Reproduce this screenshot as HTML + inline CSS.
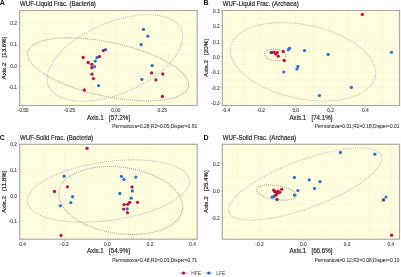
<!DOCTYPE html>
<html><head><meta charset="utf-8"><style>
html,body{margin:0;padding:0;background:#fff;width:401px;height:277px;overflow:hidden}
svg{display:block;will-change:transform}
</style></head><body><svg width="401" height="277" viewBox="0 0 401 277" font-family="'Liberation Sans', sans-serif"><clipPath id="clipA"><rect x="19.7" y="10.5" width="177.50" height="95.00"/></clipPath><rect x="19.7" y="10.5" width="177.50" height="95.00" fill="#ffffe0"/><g clip-path="url(#clipA)"><line x1="46.20" y1="10.5" x2="46.20" y2="105.5" stroke="#e6e6cc" stroke-width="0.5" opacity="0.6"/><line x1="92.60" y1="10.5" x2="92.60" y2="105.5" stroke="#e6e6cc" stroke-width="0.5" opacity="0.6"/><line x1="139.00" y1="10.5" x2="139.00" y2="105.5" stroke="#e6e6cc" stroke-width="0.5" opacity="0.6"/><line x1="185.40" y1="10.5" x2="185.40" y2="105.5" stroke="#e6e6cc" stroke-width="0.5" opacity="0.6"/><line x1="19.7" y1="12.17" x2="197.2" y2="12.17" stroke="#e6e6cc" stroke-width="0.5" opacity="0.6"/><line x1="19.7" y1="33.54" x2="197.2" y2="33.54" stroke="#e6e6cc" stroke-width="0.5" opacity="0.6"/><line x1="19.7" y1="54.91" x2="197.2" y2="54.91" stroke="#e6e6cc" stroke-width="0.5" opacity="0.6"/><line x1="19.7" y1="76.28" x2="197.2" y2="76.28" stroke="#e6e6cc" stroke-width="0.5" opacity="0.6"/><line x1="19.7" y1="97.66" x2="197.2" y2="97.66" stroke="#e6e6cc" stroke-width="0.5" opacity="0.6"/><line x1="23.00" y1="10.5" x2="23.00" y2="105.5" stroke="#e6e6cc" stroke-width="0.5" opacity="0.6"/><line x1="69.40" y1="10.5" x2="69.40" y2="105.5" stroke="#e6e6cc" stroke-width="0.5" opacity="0.6"/><line x1="115.80" y1="10.5" x2="115.80" y2="105.5" stroke="#e6e6cc" stroke-width="0.5" opacity="0.6"/><line x1="162.20" y1="10.5" x2="162.20" y2="105.5" stroke="#e6e6cc" stroke-width="0.5" opacity="0.6"/><line x1="19.7" y1="22.86" x2="197.2" y2="22.86" stroke="#e6e6cc" stroke-width="0.5" opacity="0.6"/><line x1="19.7" y1="44.23" x2="197.2" y2="44.23" stroke="#e6e6cc" stroke-width="0.5" opacity="0.6"/><line x1="19.7" y1="65.60" x2="197.2" y2="65.60" stroke="#e6e6cc" stroke-width="0.5" opacity="0.6"/><line x1="19.7" y1="86.97" x2="197.2" y2="86.97" stroke="#e6e6cc" stroke-width="0.5" opacity="0.6"/><ellipse cx="108.08" cy="69.35" rx="82.14" ry="26.95" transform="rotate(12.15 108.08 69.35)" fill="none" stroke="#b49496" stroke-width="1.1" stroke-dasharray="0.9 1.1" stroke-linecap="butt"/><ellipse cx="114.98" cy="57.95" rx="72.11" ry="35.6" transform="rotate(-23.08 114.98 57.95)" fill="none" stroke="#adb8bb" stroke-width="1.1" stroke-dasharray="0.9 1.1" stroke-linecap="butt"/><circle cx="95.2" cy="61.1" r="1.65" fill="#2f78c9"/><circle cx="97.0" cy="57.6" r="1.65" fill="#2f78c9"/><circle cx="105.5" cy="49.7" r="1.65" fill="#2f78c9"/><circle cx="94.6" cy="66.6" r="1.65" fill="#2f78c9"/><circle cx="98.5" cy="85.7" r="1.65" fill="#2f78c9"/><circle cx="143.5" cy="29.4" r="1.65" fill="#2f78c9"/><circle cx="147.9" cy="36.2" r="1.65" fill="#2f78c9"/><circle cx="141.2" cy="44.7" r="1.65" fill="#2f78c9"/><circle cx="152.2" cy="65.6" r="1.65" fill="#2f78c9"/><circle cx="141.9" cy="79.3" r="1.65" fill="#2f78c9"/><circle cx="83.2" cy="57.5" r="1.65" fill="#bd1444"/><circle cx="88.2" cy="62.5" r="1.65" fill="#bd1444"/><circle cx="91.8" cy="64.3" r="1.65" fill="#bd1444"/><circle cx="99.4" cy="56.6" r="1.65" fill="#bd1444"/><circle cx="103.3" cy="50.6" r="1.65" fill="#bd1444"/><circle cx="91.8" cy="67.6" r="1.65" fill="#bd1444"/><circle cx="92.0" cy="74.2" r="1.65" fill="#bd1444"/><circle cx="93.4" cy="78.6" r="1.65" fill="#bd1444"/><circle cx="84.3" cy="90.0" r="1.65" fill="#bd1444"/><circle cx="151.6" cy="72.9" r="1.65" fill="#bd1444"/><circle cx="162.8" cy="74.0" r="1.65" fill="#bd1444"/><circle cx="155.9" cy="79.9" r="1.65" fill="#bd1444"/><circle cx="162.4" cy="96.4" r="1.65" fill="#bd1444"/></g><rect x="19.7" y="10.5" width="177.50" height="95.00" fill="none" stroke="#aeaea8" stroke-width="1.25"/><line x1="23.00" y1="105.5" x2="23.00" y2="107.3" stroke="#aeaea8" stroke-width="0.6"/><text transform="translate(23.00 111.90) scale(0.92 1)" font-size="5.217" text-anchor="middle" fill="#474747" stroke="#474747" stroke-width="0.12" xml:space="preserve">-0.50</text><line x1="69.40" y1="105.5" x2="69.40" y2="107.3" stroke="#aeaea8" stroke-width="0.6"/><text transform="translate(69.40 111.90) scale(0.92 1)" font-size="5.217" text-anchor="middle" fill="#474747" stroke="#474747" stroke-width="0.12" xml:space="preserve">-0.25</text><line x1="115.80" y1="105.5" x2="115.80" y2="107.3" stroke="#aeaea8" stroke-width="0.6"/><text transform="translate(115.80 111.90) scale(0.92 1)" font-size="5.217" text-anchor="middle" fill="#474747" stroke="#474747" stroke-width="0.12" xml:space="preserve">0.00</text><line x1="162.20" y1="105.5" x2="162.20" y2="107.3" stroke="#aeaea8" stroke-width="0.6"/><text transform="translate(162.20 111.90) scale(0.92 1)" font-size="5.217" text-anchor="middle" fill="#474747" stroke="#474747" stroke-width="0.12" xml:space="preserve">0.25</text><line x1="17.9" y1="22.86" x2="19.7" y2="22.86" stroke="#aeaea8" stroke-width="0.6"/><text transform="translate(16.90 25.06) scale(0.92 1)" font-size="5.217" text-anchor="end" fill="#474747" stroke="#474747" stroke-width="0.12" xml:space="preserve">0.2</text><line x1="17.9" y1="44.23" x2="19.7" y2="44.23" stroke="#aeaea8" stroke-width="0.6"/><text transform="translate(16.90 46.43) scale(0.92 1)" font-size="5.217" text-anchor="end" fill="#474747" stroke="#474747" stroke-width="0.12" xml:space="preserve">0.1</text><line x1="17.9" y1="65.60" x2="19.7" y2="65.60" stroke="#aeaea8" stroke-width="0.6"/><text transform="translate(16.90 67.80) scale(0.92 1)" font-size="5.217" text-anchor="end" fill="#474747" stroke="#474747" stroke-width="0.12" xml:space="preserve">0.0</text><line x1="17.9" y1="86.97" x2="19.7" y2="86.97" stroke="#aeaea8" stroke-width="0.6"/><text transform="translate(16.90 89.17) scale(0.92 1)" font-size="5.217" text-anchor="end" fill="#474747" stroke="#474747" stroke-width="0.12" xml:space="preserve">-0.1</text><text transform="translate(-0.30 4.90) scale(1 1)" font-size="7.000" text-anchor="start" fill="#111" font-weight="bold" xml:space="preserve">A</text><text transform="translate(20.00 6.10) scale(0.92 1)" font-size="6.630" text-anchor="start" fill="#1e1e1e" stroke="#1e1e1e" stroke-width="0.16" xml:space="preserve">WUF-Liquid Frac. (Bacteria)</text><text transform="translate(108.45 119.70) scale(0.92 1)" font-size="6.739" text-anchor="middle" fill="#1e1e1e" stroke="#1e1e1e" stroke-width="0.16" xml:space="preserve">Axis.1   [57.2%]</text><text transform="translate(5.60 58.00) rotate(-90) scale(1.0526 1)" font-size="5.890" text-anchor="middle" fill="#1e1e1e" stroke="#1e1e1e" stroke-width="0.16" xml:space="preserve">Axis.2   [13.6%]</text><text transform="translate(197.10 127.80) scale(0.92 1)" font-size="5.293" text-anchor="end" fill="#2a2a2a" stroke="#2a2a2a" stroke-width="0.06" xml:space="preserve">Permanova=0.28;R2=0.05;Disper=0.91</text><clipPath id="clipB"><rect x="222.35" y="10.5" width="177.15" height="95.00"/></clipPath><rect x="222.35" y="10.5" width="177.15" height="95.00" fill="#ffffe0"/><g clip-path="url(#clipB)"><line x1="243.42" y1="10.5" x2="243.42" y2="105.5" stroke="#e6e6cc" stroke-width="0.5" opacity="0.6"/><line x1="278.27" y1="10.5" x2="278.27" y2="105.5" stroke="#e6e6cc" stroke-width="0.5" opacity="0.6"/><line x1="313.12" y1="10.5" x2="313.12" y2="105.5" stroke="#e6e6cc" stroke-width="0.5" opacity="0.6"/><line x1="347.97" y1="10.5" x2="347.97" y2="105.5" stroke="#e6e6cc" stroke-width="0.5" opacity="0.6"/><line x1="382.82" y1="10.5" x2="382.82" y2="105.5" stroke="#e6e6cc" stroke-width="0.5" opacity="0.6"/><line x1="222.35" y1="18.20" x2="399.5" y2="18.20" stroke="#e6e6cc" stroke-width="0.5" opacity="0.6"/><line x1="222.35" y1="33.62" x2="399.5" y2="33.62" stroke="#e6e6cc" stroke-width="0.5" opacity="0.6"/><line x1="222.35" y1="49.04" x2="399.5" y2="49.04" stroke="#e6e6cc" stroke-width="0.5" opacity="0.6"/><line x1="222.35" y1="64.46" x2="399.5" y2="64.46" stroke="#e6e6cc" stroke-width="0.5" opacity="0.6"/><line x1="222.35" y1="79.88" x2="399.5" y2="79.88" stroke="#e6e6cc" stroke-width="0.5" opacity="0.6"/><line x1="222.35" y1="95.30" x2="399.5" y2="95.30" stroke="#e6e6cc" stroke-width="0.5" opacity="0.6"/><line x1="226.00" y1="10.5" x2="226.00" y2="105.5" stroke="#e6e6cc" stroke-width="0.5" opacity="0.6"/><line x1="260.85" y1="10.5" x2="260.85" y2="105.5" stroke="#e6e6cc" stroke-width="0.5" opacity="0.6"/><line x1="295.70" y1="10.5" x2="295.70" y2="105.5" stroke="#e6e6cc" stroke-width="0.5" opacity="0.6"/><line x1="330.55" y1="10.5" x2="330.55" y2="105.5" stroke="#e6e6cc" stroke-width="0.5" opacity="0.6"/><line x1="365.40" y1="10.5" x2="365.40" y2="105.5" stroke="#e6e6cc" stroke-width="0.5" opacity="0.6"/><line x1="222.35" y1="10.49" x2="399.5" y2="10.49" stroke="#e6e6cc" stroke-width="0.5" opacity="0.6"/><line x1="222.35" y1="25.91" x2="399.5" y2="25.91" stroke="#e6e6cc" stroke-width="0.5" opacity="0.6"/><line x1="222.35" y1="41.33" x2="399.5" y2="41.33" stroke="#e6e6cc" stroke-width="0.5" opacity="0.6"/><line x1="222.35" y1="56.75" x2="399.5" y2="56.75" stroke="#e6e6cc" stroke-width="0.5" opacity="0.6"/><line x1="222.35" y1="72.17" x2="399.5" y2="72.17" stroke="#e6e6cc" stroke-width="0.5" opacity="0.6"/><line x1="222.35" y1="87.59" x2="399.5" y2="87.59" stroke="#e6e6cc" stroke-width="0.5" opacity="0.6"/><line x1="222.35" y1="103.01" x2="399.5" y2="103.01" stroke="#e6e6cc" stroke-width="0.5" opacity="0.6"/><ellipse cx="303.01" cy="61.81" rx="73.87" ry="36.94" transform="rotate(11.79 303.01 61.81)" fill="none" stroke="#adb8bb" stroke-width="1.1" stroke-dasharray="0.9 1.1" stroke-linecap="butt"/><ellipse cx="275.3" cy="54.9" rx="10.7" ry="5.6" transform="rotate(6 275.3 54.9)" fill="none" stroke="#b49496" stroke-width="1.1" stroke-dasharray="0.9 1.1" stroke-linecap="butt"/><circle cx="271.2" cy="52.4" r="1.65" fill="#2f78c9"/><circle cx="288.3" cy="49.8" r="1.65" fill="#2f78c9"/><circle cx="289.5" cy="48.3" r="1.65" fill="#2f78c9"/><circle cx="304.5" cy="50.6" r="1.65" fill="#2f78c9"/><circle cx="328.2" cy="54.4" r="1.65" fill="#2f78c9"/><circle cx="297.9" cy="66.5" r="1.65" fill="#2f78c9"/><circle cx="297.0" cy="69.1" r="1.65" fill="#2f78c9"/><circle cx="283.8" cy="72.1" r="1.65" fill="#2f78c9"/><circle cx="319.4" cy="95.6" r="1.65" fill="#2f78c9"/><circle cx="351.3" cy="87.4" r="1.65" fill="#2f78c9"/><circle cx="391.5" cy="52.3" r="1.65" fill="#2f78c9"/><circle cx="271.6" cy="52.6" r="1.65" fill="#bd1444"/><circle cx="274.1" cy="52.1" r="1.65" fill="#bd1444"/><circle cx="277.2" cy="52.6" r="1.65" fill="#bd1444"/><circle cx="275.7" cy="54.1" r="1.65" fill="#bd1444"/><circle cx="278.2" cy="56.2" r="1.65" fill="#bd1444"/><circle cx="283.3" cy="51.4" r="1.65" fill="#bd1444"/><circle cx="284.2" cy="60.5" r="1.65" fill="#bd1444"/><circle cx="362.3" cy="14.4" r="1.65" fill="#bd1444"/></g><rect x="222.35" y="10.5" width="177.15" height="95.00" fill="none" stroke="#aeaea8" stroke-width="1.25"/><line x1="226.00" y1="105.5" x2="226.00" y2="107.3" stroke="#aeaea8" stroke-width="0.6"/><text transform="translate(226.00 111.90) scale(0.92 1)" font-size="5.217" text-anchor="middle" fill="#474747" stroke="#474747" stroke-width="0.12" xml:space="preserve">-0.4</text><line x1="260.85" y1="105.5" x2="260.85" y2="107.3" stroke="#aeaea8" stroke-width="0.6"/><text transform="translate(260.85 111.90) scale(0.92 1)" font-size="5.217" text-anchor="middle" fill="#474747" stroke="#474747" stroke-width="0.12" xml:space="preserve">-0.2</text><line x1="295.70" y1="105.5" x2="295.70" y2="107.3" stroke="#aeaea8" stroke-width="0.6"/><text transform="translate(295.70 111.90) scale(0.92 1)" font-size="5.217" text-anchor="middle" fill="#474747" stroke="#474747" stroke-width="0.12" xml:space="preserve">0.0</text><line x1="330.55" y1="105.5" x2="330.55" y2="107.3" stroke="#aeaea8" stroke-width="0.6"/><text transform="translate(330.55 111.90) scale(0.92 1)" font-size="5.217" text-anchor="middle" fill="#474747" stroke="#474747" stroke-width="0.12" xml:space="preserve">0.2</text><line x1="365.40" y1="105.5" x2="365.40" y2="107.3" stroke="#aeaea8" stroke-width="0.6"/><text transform="translate(365.40 111.90) scale(0.92 1)" font-size="5.217" text-anchor="middle" fill="#474747" stroke="#474747" stroke-width="0.12" xml:space="preserve">0.4</text><line x1="220.54999999999998" y1="10.49" x2="222.35" y2="10.49" stroke="#aeaea8" stroke-width="0.6"/><text transform="translate(219.55 12.69) scale(0.92 1)" font-size="5.217" text-anchor="end" fill="#474747" stroke="#474747" stroke-width="0.12" xml:space="preserve">0.3</text><line x1="220.54999999999998" y1="25.91" x2="222.35" y2="25.91" stroke="#aeaea8" stroke-width="0.6"/><text transform="translate(219.55 28.11) scale(0.92 1)" font-size="5.217" text-anchor="end" fill="#474747" stroke="#474747" stroke-width="0.12" xml:space="preserve">0.2</text><line x1="220.54999999999998" y1="41.33" x2="222.35" y2="41.33" stroke="#aeaea8" stroke-width="0.6"/><text transform="translate(219.55 43.53) scale(0.92 1)" font-size="5.217" text-anchor="end" fill="#474747" stroke="#474747" stroke-width="0.12" xml:space="preserve">0.1</text><line x1="220.54999999999998" y1="56.75" x2="222.35" y2="56.75" stroke="#aeaea8" stroke-width="0.6"/><text transform="translate(219.55 58.95) scale(0.92 1)" font-size="5.217" text-anchor="end" fill="#474747" stroke="#474747" stroke-width="0.12" xml:space="preserve">0.0</text><line x1="220.54999999999998" y1="72.17" x2="222.35" y2="72.17" stroke="#aeaea8" stroke-width="0.6"/><text transform="translate(219.55 74.37) scale(0.92 1)" font-size="5.217" text-anchor="end" fill="#474747" stroke="#474747" stroke-width="0.12" xml:space="preserve">-0.1</text><line x1="220.54999999999998" y1="87.59" x2="222.35" y2="87.59" stroke="#aeaea8" stroke-width="0.6"/><text transform="translate(219.55 89.79) scale(0.92 1)" font-size="5.217" text-anchor="end" fill="#474747" stroke="#474747" stroke-width="0.12" xml:space="preserve">-0.2</text><line x1="220.54999999999998" y1="103.01" x2="222.35" y2="103.01" stroke="#aeaea8" stroke-width="0.6"/><text transform="translate(219.55 105.21) scale(0.92 1)" font-size="5.217" text-anchor="end" fill="#474747" stroke="#474747" stroke-width="0.12" xml:space="preserve">-0.3</text><text transform="translate(203.60 4.90) scale(1 1)" font-size="7.000" text-anchor="start" fill="#111" font-weight="bold" xml:space="preserve">B</text><text transform="translate(222.65 6.10) scale(0.92 1)" font-size="6.630" text-anchor="start" fill="#1e1e1e" stroke="#1e1e1e" stroke-width="0.16" xml:space="preserve">WUF-Liquid Frac. (Archaea)</text><text transform="translate(310.93 119.70) scale(0.92 1)" font-size="6.739" text-anchor="middle" fill="#1e1e1e" stroke="#1e1e1e" stroke-width="0.16" xml:space="preserve">Axis.1   [74.1%]</text><text transform="translate(208.25 58.00) rotate(-90) scale(1.0526 1)" font-size="5.890" text-anchor="middle" fill="#1e1e1e" stroke="#1e1e1e" stroke-width="0.16" xml:space="preserve">Axis.2   [20%]</text><text transform="translate(399.40 127.80) scale(0.92 1)" font-size="5.293" text-anchor="end" fill="#2a2a2a" stroke="#2a2a2a" stroke-width="0.06" xml:space="preserve">Permanova=0.01;R2=0.18;Disper=0.01</text><clipPath id="clipC"><rect x="19.7" y="144.3" width="177.50" height="94.90"/></clipPath><rect x="19.7" y="144.3" width="177.50" height="94.90" fill="#ffffe0"/><g clip-path="url(#clipC)"><line x1="43.20" y1="144.3" x2="43.20" y2="239.2" stroke="#e6e6cc" stroke-width="0.5" opacity="0.6"/><line x1="85.91" y1="144.3" x2="85.91" y2="239.2" stroke="#e6e6cc" stroke-width="0.5" opacity="0.6"/><line x1="128.62" y1="144.3" x2="128.62" y2="239.2" stroke="#e6e6cc" stroke-width="0.5" opacity="0.6"/><line x1="171.32" y1="144.3" x2="171.32" y2="239.2" stroke="#e6e6cc" stroke-width="0.5" opacity="0.6"/><line x1="19.7" y1="156.82" x2="197.2" y2="156.82" stroke="#e6e6cc" stroke-width="0.5" opacity="0.6"/><line x1="19.7" y1="182.54" x2="197.2" y2="182.54" stroke="#e6e6cc" stroke-width="0.5" opacity="0.6"/><line x1="19.7" y1="208.26" x2="197.2" y2="208.26" stroke="#e6e6cc" stroke-width="0.5" opacity="0.6"/><line x1="19.7" y1="233.98" x2="197.2" y2="233.98" stroke="#e6e6cc" stroke-width="0.5" opacity="0.6"/><line x1="21.84" y1="144.3" x2="21.84" y2="239.2" stroke="#e6e6cc" stroke-width="0.5" opacity="0.6"/><line x1="64.55" y1="144.3" x2="64.55" y2="239.2" stroke="#e6e6cc" stroke-width="0.5" opacity="0.6"/><line x1="107.26" y1="144.3" x2="107.26" y2="239.2" stroke="#e6e6cc" stroke-width="0.5" opacity="0.6"/><line x1="149.97" y1="144.3" x2="149.97" y2="239.2" stroke="#e6e6cc" stroke-width="0.5" opacity="0.6"/><line x1="192.68" y1="144.3" x2="192.68" y2="239.2" stroke="#e6e6cc" stroke-width="0.5" opacity="0.6"/><line x1="19.7" y1="143.96" x2="197.2" y2="143.96" stroke="#e6e6cc" stroke-width="0.5" opacity="0.6"/><line x1="19.7" y1="169.68" x2="197.2" y2="169.68" stroke="#e6e6cc" stroke-width="0.5" opacity="0.6"/><line x1="19.7" y1="195.40" x2="197.2" y2="195.40" stroke="#e6e6cc" stroke-width="0.5" opacity="0.6"/><line x1="19.7" y1="221.12" x2="197.2" y2="221.12" stroke="#e6e6cc" stroke-width="0.5" opacity="0.6"/><ellipse cx="108.3" cy="191.01" rx="81.67" ry="29.4" transform="rotate(-7.86 108.3 191.01)" fill="none" stroke="#adb8bb" stroke-width="1.1" stroke-dasharray="0.9 1.1" stroke-linecap="butt"/><ellipse cx="120.76" cy="200.48" rx="62.44" ry="33.16" transform="rotate(8.06 120.76 200.48)" fill="none" stroke="#b49496" stroke-width="1.1" stroke-dasharray="0.9 1.1" stroke-linecap="butt"/><circle cx="64.2" cy="176.2" r="1.65" fill="#2f78c9"/><circle cx="72.6" cy="196.7" r="1.65" fill="#2f78c9"/><circle cx="70.8" cy="202.7" r="1.65" fill="#2f78c9"/><circle cx="60.2" cy="205.8" r="1.65" fill="#2f78c9"/><circle cx="121.4" cy="176.4" r="1.65" fill="#2f78c9"/><circle cx="123.9" cy="179.4" r="1.65" fill="#2f78c9"/><circle cx="135.8" cy="177.1" r="1.65" fill="#2f78c9"/><circle cx="132.4" cy="190.9" r="1.65" fill="#2f78c9"/><circle cx="119.8" cy="193.5" r="1.65" fill="#2f78c9"/><circle cx="131.2" cy="198.2" r="1.65" fill="#2f78c9"/><circle cx="127.2" cy="208.9" r="1.65" fill="#2f78c9"/><circle cx="87.0" cy="148.3" r="1.65" fill="#bd1444"/><circle cx="67.4" cy="186.8" r="1.65" fill="#bd1444"/><circle cx="54.5" cy="191.4" r="1.65" fill="#bd1444"/><circle cx="61.0" cy="235.4" r="1.65" fill="#bd1444"/><circle cx="132.0" cy="187.0" r="1.65" fill="#bd1444"/><circle cx="137.5" cy="202.3" r="1.65" fill="#bd1444"/><circle cx="129.7" cy="202.3" r="1.65" fill="#bd1444"/><circle cx="127.7" cy="204.3" r="1.65" fill="#bd1444"/><circle cx="124.1" cy="204.6" r="1.65" fill="#bd1444"/><circle cx="123.6" cy="209.1" r="1.65" fill="#bd1444"/><circle cx="127.4" cy="212.7" r="1.65" fill="#bd1444"/></g><rect x="19.7" y="144.3" width="177.50" height="94.90" fill="none" stroke="#aeaea8" stroke-width="1.25"/><line x1="21.84" y1="239.2" x2="21.84" y2="241.0" stroke="#aeaea8" stroke-width="0.6"/><text transform="translate(21.84 245.60) scale(0.92 1)" font-size="5.217" text-anchor="middle" fill="#474747" stroke="#474747" stroke-width="0.12" xml:space="preserve">-0.4</text><line x1="64.55" y1="239.2" x2="64.55" y2="241.0" stroke="#aeaea8" stroke-width="0.6"/><text transform="translate(64.55 245.60) scale(0.92 1)" font-size="5.217" text-anchor="middle" fill="#474747" stroke="#474747" stroke-width="0.12" xml:space="preserve">-0.2</text><line x1="107.26" y1="239.2" x2="107.26" y2="241.0" stroke="#aeaea8" stroke-width="0.6"/><text transform="translate(107.26 245.60) scale(0.92 1)" font-size="5.217" text-anchor="middle" fill="#474747" stroke="#474747" stroke-width="0.12" xml:space="preserve">0.0</text><line x1="149.97" y1="239.2" x2="149.97" y2="241.0" stroke="#aeaea8" stroke-width="0.6"/><text transform="translate(149.97 245.60) scale(0.92 1)" font-size="5.217" text-anchor="middle" fill="#474747" stroke="#474747" stroke-width="0.12" xml:space="preserve">0.2</text><line x1="192.68" y1="239.2" x2="192.68" y2="241.0" stroke="#aeaea8" stroke-width="0.6"/><text transform="translate(192.68 245.60) scale(0.92 1)" font-size="5.217" text-anchor="middle" fill="#474747" stroke="#474747" stroke-width="0.12" xml:space="preserve">0.4</text><line x1="17.9" y1="143.96" x2="19.7" y2="143.96" stroke="#aeaea8" stroke-width="0.6"/><text transform="translate(16.90 146.16) scale(0.92 1)" font-size="5.217" text-anchor="end" fill="#474747" stroke="#474747" stroke-width="0.12" xml:space="preserve">0.2</text><line x1="17.9" y1="169.68" x2="19.7" y2="169.68" stroke="#aeaea8" stroke-width="0.6"/><text transform="translate(16.90 171.88) scale(0.92 1)" font-size="5.217" text-anchor="end" fill="#474747" stroke="#474747" stroke-width="0.12" xml:space="preserve">0.1</text><line x1="17.9" y1="195.40" x2="19.7" y2="195.40" stroke="#aeaea8" stroke-width="0.6"/><text transform="translate(16.90 197.60) scale(0.92 1)" font-size="5.217" text-anchor="end" fill="#474747" stroke="#474747" stroke-width="0.12" xml:space="preserve">0.0</text><line x1="17.9" y1="221.12" x2="19.7" y2="221.12" stroke="#aeaea8" stroke-width="0.6"/><text transform="translate(16.90 223.32) scale(0.92 1)" font-size="5.217" text-anchor="end" fill="#474747" stroke="#474747" stroke-width="0.12" xml:space="preserve">-0.1</text><text transform="translate(-0.30 139.60) scale(1 1)" font-size="7.000" text-anchor="start" fill="#111" font-weight="bold" xml:space="preserve">C</text><text transform="translate(20.00 139.90) scale(0.92 1)" font-size="6.630" text-anchor="start" fill="#1e1e1e" stroke="#1e1e1e" stroke-width="0.16" xml:space="preserve">WUF-Solid Frac. (Bacteria)</text><text transform="translate(108.45 253.40) scale(0.92 1)" font-size="6.739" text-anchor="middle" fill="#1e1e1e" stroke="#1e1e1e" stroke-width="0.16" xml:space="preserve">Axis.1   [54.9%]</text><text transform="translate(5.60 191.75) rotate(-90) scale(1.0526 1)" font-size="5.890" text-anchor="middle" fill="#1e1e1e" stroke="#1e1e1e" stroke-width="0.16" xml:space="preserve">Axis.2   [11.8%]</text><text transform="translate(197.10 261.50) scale(0.92 1)" font-size="5.293" text-anchor="end" fill="#2a2a2a" stroke="#2a2a2a" stroke-width="0.06" xml:space="preserve">Permanova=0.48;R2=0.03;Disper=0.71</text><clipPath id="clipD"><rect x="222.35" y="144.3" width="177.15" height="94.90"/></clipPath><rect x="222.35" y="144.3" width="177.15" height="94.90" fill="#ffffe0"/><g clip-path="url(#clipD)"><line x1="237.51" y1="144.3" x2="237.51" y2="239.2" stroke="#e6e6cc" stroke-width="0.5" opacity="0.6"/><line x1="281.33" y1="144.3" x2="281.33" y2="239.2" stroke="#e6e6cc" stroke-width="0.5" opacity="0.6"/><line x1="325.15" y1="144.3" x2="325.15" y2="239.2" stroke="#e6e6cc" stroke-width="0.5" opacity="0.6"/><line x1="368.97" y1="144.3" x2="368.97" y2="239.2" stroke="#e6e6cc" stroke-width="0.5" opacity="0.6"/><line x1="222.35" y1="177.12" x2="399.5" y2="177.12" stroke="#e6e6cc" stroke-width="0.5" opacity="0.6"/><line x1="222.35" y1="204.02" x2="399.5" y2="204.02" stroke="#e6e6cc" stroke-width="0.5" opacity="0.6"/><line x1="222.35" y1="230.92" x2="399.5" y2="230.92" stroke="#e6e6cc" stroke-width="0.5" opacity="0.6"/><line x1="259.42" y1="144.3" x2="259.42" y2="239.2" stroke="#e6e6cc" stroke-width="0.5" opacity="0.6"/><line x1="303.24" y1="144.3" x2="303.24" y2="239.2" stroke="#e6e6cc" stroke-width="0.5" opacity="0.6"/><line x1="347.06" y1="144.3" x2="347.06" y2="239.2" stroke="#e6e6cc" stroke-width="0.5" opacity="0.6"/><line x1="390.88" y1="144.3" x2="390.88" y2="239.2" stroke="#e6e6cc" stroke-width="0.5" opacity="0.6"/><line x1="222.35" y1="163.67" x2="399.5" y2="163.67" stroke="#e6e6cc" stroke-width="0.5" opacity="0.6"/><line x1="222.35" y1="190.57" x2="399.5" y2="190.57" stroke="#e6e6cc" stroke-width="0.5" opacity="0.6"/><line x1="222.35" y1="217.47" x2="399.5" y2="217.47" stroke="#e6e6cc" stroke-width="0.5" opacity="0.6"/><ellipse cx="305.12" cy="184.1" rx="81.16" ry="23.97" transform="rotate(-20.38 305.12 184.1)" fill="none" stroke="#adb8bb" stroke-width="1.1" stroke-dasharray="0.9 1.1" stroke-linecap="butt"/><ellipse cx="276.32" cy="192.48" rx="20.06" ry="7.05" transform="rotate(9.06 276.32 192.48)" fill="none" stroke="#b49496" stroke-width="1.1" stroke-dasharray="0.9 1.1" stroke-linecap="butt"/><circle cx="340.4" cy="152.5" r="1.65" fill="#2f78c9"/><circle cx="374.8" cy="154.2" r="1.65" fill="#2f78c9"/><circle cx="294.4" cy="177.5" r="1.65" fill="#2f78c9"/><circle cx="309.2" cy="179.9" r="1.65" fill="#2f78c9"/><circle cx="320.0" cy="181.7" r="1.65" fill="#2f78c9"/><circle cx="314.5" cy="188.4" r="1.65" fill="#2f78c9"/><circle cx="297.9" cy="190.6" r="1.65" fill="#2f78c9"/><circle cx="294.5" cy="195.2" r="1.65" fill="#2f78c9"/><circle cx="272.1" cy="197.0" r="1.65" fill="#2f78c9"/><circle cx="273.9" cy="196.7" r="1.65" fill="#2f78c9"/><circle cx="386.0" cy="197.1" r="1.65" fill="#2f78c9"/><circle cx="281.7" cy="189.3" r="1.65" fill="#bd1444"/><circle cx="279.7" cy="192.3" r="1.65" fill="#bd1444"/><circle cx="273.6" cy="190.1" r="1.65" fill="#bd1444"/><circle cx="274.6" cy="191.6" r="1.65" fill="#bd1444"/><circle cx="277.2" cy="193.6" r="1.65" fill="#bd1444"/><circle cx="275.6" cy="195.2" r="1.65" fill="#bd1444"/><circle cx="276.0" cy="192.0" r="1.65" fill="#bd1444"/><circle cx="278.0" cy="191.2" r="1.65" fill="#bd1444"/><circle cx="277.0" cy="199.4" r="1.65" fill="#bd1444"/><circle cx="383.5" cy="199.9" r="1.65" fill="#bd1444"/><circle cx="391.6" cy="235.2" r="1.65" fill="#bd1444"/></g><rect x="222.35" y="144.3" width="177.15" height="94.90" fill="none" stroke="#aeaea8" stroke-width="1.25"/><line x1="259.42" y1="239.2" x2="259.42" y2="241.0" stroke="#aeaea8" stroke-width="0.6"/><text transform="translate(259.42 245.60) scale(0.92 1)" font-size="5.217" text-anchor="middle" fill="#474747" stroke="#474747" stroke-width="0.12" xml:space="preserve">-0.2</text><line x1="303.24" y1="239.2" x2="303.24" y2="241.0" stroke="#aeaea8" stroke-width="0.6"/><text transform="translate(303.24 245.60) scale(0.92 1)" font-size="5.217" text-anchor="middle" fill="#474747" stroke="#474747" stroke-width="0.12" xml:space="preserve">0.0</text><line x1="347.06" y1="239.2" x2="347.06" y2="241.0" stroke="#aeaea8" stroke-width="0.6"/><text transform="translate(347.06 245.60) scale(0.92 1)" font-size="5.217" text-anchor="middle" fill="#474747" stroke="#474747" stroke-width="0.12" xml:space="preserve">0.2</text><line x1="390.88" y1="239.2" x2="390.88" y2="241.0" stroke="#aeaea8" stroke-width="0.6"/><text transform="translate(390.88 245.60) scale(0.92 1)" font-size="5.217" text-anchor="middle" fill="#474747" stroke="#474747" stroke-width="0.12" xml:space="preserve">0.4</text><line x1="220.54999999999998" y1="163.67" x2="222.35" y2="163.67" stroke="#aeaea8" stroke-width="0.6"/><text transform="translate(219.55 165.87) scale(0.92 1)" font-size="5.217" text-anchor="end" fill="#474747" stroke="#474747" stroke-width="0.12" xml:space="preserve">0.2</text><line x1="220.54999999999998" y1="190.57" x2="222.35" y2="190.57" stroke="#aeaea8" stroke-width="0.6"/><text transform="translate(219.55 192.77) scale(0.92 1)" font-size="5.217" text-anchor="end" fill="#474747" stroke="#474747" stroke-width="0.12" xml:space="preserve">0.0</text><line x1="220.54999999999998" y1="217.47" x2="222.35" y2="217.47" stroke="#aeaea8" stroke-width="0.6"/><text transform="translate(219.55 219.67) scale(0.92 1)" font-size="5.217" text-anchor="end" fill="#474747" stroke="#474747" stroke-width="0.12" xml:space="preserve">-0.2</text><text transform="translate(203.60 139.60) scale(1 1)" font-size="7.000" text-anchor="start" fill="#111" font-weight="bold" xml:space="preserve">D</text><text transform="translate(222.65 139.90) scale(0.92 1)" font-size="6.630" text-anchor="start" fill="#1e1e1e" stroke="#1e1e1e" stroke-width="0.16" xml:space="preserve">WUF-Solid Frac. (Archaea)</text><text transform="translate(310.93 253.40) scale(0.92 1)" font-size="6.739" text-anchor="middle" fill="#1e1e1e" stroke="#1e1e1e" stroke-width="0.16" xml:space="preserve">Axis.1   [66.6%]</text><text transform="translate(208.25 191.75) rotate(-90) scale(1.0526 1)" font-size="5.890" text-anchor="middle" fill="#1e1e1e" stroke="#1e1e1e" stroke-width="0.16" xml:space="preserve">Axis.2   [25.4%]</text><text transform="translate(399.40 261.50) scale(0.92 1)" font-size="5.293" text-anchor="end" fill="#2a2a2a" stroke="#2a2a2a" stroke-width="0.06" xml:space="preserve">Permanova=0.12;R2=0.08;Disper=0.10</text><line x1="178.8" y1="273" x2="188" y2="273" stroke="#e2a6b4" stroke-width="1.0"/><circle cx="183.5" cy="273" r="1.6" fill="#8e1a3c"/><text transform="translate(191.20 274.80) scale(0.92 1)" font-size="5.326" text-anchor="start" fill="#444" xml:space="preserve">HFE</text><line x1="204.5" y1="273" x2="213.4" y2="273" stroke="#a6c4e2" stroke-width="1.0"/><circle cx="208.8" cy="273" r="1.6" fill="#2a5cb0"/><text transform="translate(216.20 274.80) scale(0.92 1)" font-size="5.326" text-anchor="start" fill="#444" xml:space="preserve">LFE</text></svg></body></html>
